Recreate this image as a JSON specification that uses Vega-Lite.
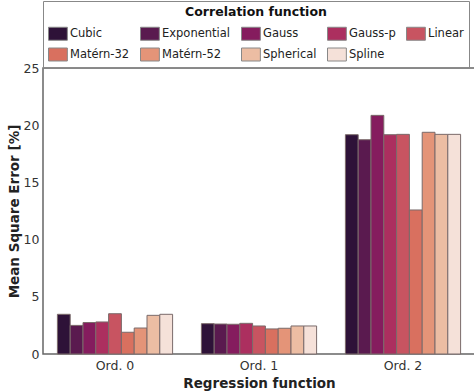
{
  "$schema": "https://vega.github.io/schema/vega-lite/v6.json",
  "width": 432,
  "height": 286,
  "padding": {"left": 7, "top": 0, "right": 1, "bottom": 1},
  "config": {
    "font": "DejaVu Sans",
    "view": {"stroke": "#666666", "strokeWidth": 1.5},
    "axis": {"domain": false, "grid": false, "ticks": false, "labelFont": "DejaVu Sans", "labelFontSize": 12.5, "labelColor": "#333333", "titleFont": "DejaVu Sans", "titleFontSize": 13.5, "titleFontWeight": "bold", "titleColor": "#222222"}
  },
  "data": {
    "values": [
      {"reg": "Ord. 0", "corr": "Cubic", "mse": 3.47},
      {"reg": "Ord. 0", "corr": "Exponential", "mse": 2.5},
      {"reg": "Ord. 0", "corr": "Gauss", "mse": 2.75},
      {"reg": "Ord. 0", "corr": "Gauss-p", "mse": 2.8},
      {"reg": "Ord. 0", "corr": "Linear", "mse": 3.52},
      {"reg": "Ord. 0", "corr": "Matérn-32", "mse": 1.9},
      {"reg": "Ord. 0", "corr": "Matérn-52", "mse": 2.27},
      {"reg": "Ord. 0", "corr": "Spherical", "mse": 3.38},
      {"reg": "Ord. 0", "corr": "Spline", "mse": 3.47},
      {"reg": "Ord. 1", "corr": "Cubic", "mse": 2.65},
      {"reg": "Ord. 1", "corr": "Exponential", "mse": 2.62},
      {"reg": "Ord. 1", "corr": "Gauss", "mse": 2.6},
      {"reg": "Ord. 1", "corr": "Gauss-p", "mse": 2.68},
      {"reg": "Ord. 1", "corr": "Linear", "mse": 2.45},
      {"reg": "Ord. 1", "corr": "Matérn-32", "mse": 2.19},
      {"reg": "Ord. 1", "corr": "Matérn-52", "mse": 2.25},
      {"reg": "Ord. 1", "corr": "Spherical", "mse": 2.45},
      {"reg": "Ord. 1", "corr": "Spline", "mse": 2.45},
      {"reg": "Ord. 2", "corr": "Cubic", "mse": 19.17},
      {"reg": "Ord. 2", "corr": "Exponential", "mse": 18.73},
      {"reg": "Ord. 2", "corr": "Gauss", "mse": 20.86},
      {"reg": "Ord. 2", "corr": "Gauss-p", "mse": 19.17},
      {"reg": "Ord. 2", "corr": "Linear", "mse": 19.2},
      {"reg": "Ord. 2", "corr": "Matérn-32", "mse": 12.59},
      {"reg": "Ord. 2", "corr": "Matérn-52", "mse": 19.38},
      {"reg": "Ord. 2", "corr": "Spherical", "mse": 19.2},
      {"reg": "Ord. 2", "corr": "Spline", "mse": 19.2}
    ]
  },
  "mark": {"type": "bar", "stroke": "#7a6a6a", "strokeWidth": 1},
  "encoding": {
    "x": {
      "field": "reg", "type": "nominal", "title": "Regression function",
      "scale": {"paddingInner": 0.2, "paddingOuter": 0.1},
      "axis": {"labelAngle": 0, "labelPadding": 5, "titlePadding": 5}
    },
    "xOffset": {"field": "corr", "type": "nominal", "sort": ["Cubic", "Exponential", "Gauss", "Gauss-p", "Linear", "Matérn-32", "Matérn-52", "Spherical", "Spline"], "scale": {"paddingInner": 0, "paddingOuter": 0}},
    "y": {
      "field": "mse", "type": "quantitative", "title": "Mean Square Error [%]",
      "scale": {"domain": [0, 25], "nice": false},
      "axis": {"values": [0, 5, 10, 15, 20, 25], "labelPadding": 4, "titlePadding": 2}
    },
    "color": {
      "field": "corr", "type": "nominal", "title": "Correlation function",
      "sort": ["Cubic", "Exponential", "Gauss", "Gauss-p", "Linear", "Matérn-32", "Matérn-52", "Spherical", "Spline"],
      "scale": {
        "domain": ["Cubic", "Exponential", "Gauss", "Gauss-p", "Linear", "Matérn-32", "Matérn-52", "Spherical", "Spline"],
        "range": ["#2e1238", "#5a1a4f", "#851c5e", "#ac2f5f", "#c85461", "#d9705f", "#e49478", "#ecbda3", "#f5e1d9"]
      },
      "legend": {
        "orient": "top", "direction": "horizontal", "columns": 5,
        "strokeColor": "#888888", "padding": 5, "offset": 0,
        "titleAnchor": "middle", "titleFontSize": 12.5, "titleFontWeight": "bold", "titleColor": "#111111", "titlePadding": 8,
        "labelFontSize": 11.5, "labelColor": "#222222", "labelOffset": 8,
        "symbolType": "M-1,-1L1.9,-1L1.9,1L-1,1Z", "symbolSize": 169,
        "symbolStrokeColor": "#888888", "symbolStrokeWidth": 1, "symbolOpacity": 1,
        "columnPadding": 8, "rowPadding": 3
      }
    }
  }
}
